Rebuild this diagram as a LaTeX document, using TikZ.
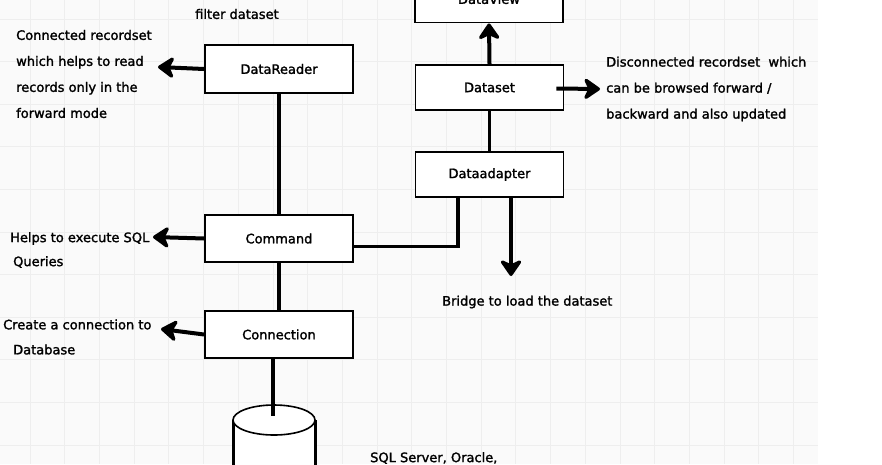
\documentclass[tikz,border=0pt]{standalone}
\usepackage{fontspec}
\setmainfont{DejaVu Sans}[BoldFont={DejaVu Sans},BoldFeatures={FakeBold=1.6}]
\usetikzlibrary{arrows.meta,calc}
\begin{document}
\begin{tikzpicture}[x=1pt,y=-1pt,
  box/.style={draw,line width=1.8pt,fill=white,minimum width=148pt,minimum height=47pt,inner sep=0pt,font=\fontsize{13}{15}\selectfont\bfseries},
  link/.style={line width=3.5pt},
  arr/.style={line width=4pt,line join=round,-{Stealth[length=19pt,width=26pt,inset=6pt,round]}},
  lbl/.style={align=left,inner sep=0pt,font=\fontsize{13}{26}\selectfont\bfseries},
  gridline/.style={gray!13,line width=0.8pt}]
\path[use as bounding box] (0,0) rectangle (882,464);
\clip (0,0) rectangle (882,464);
\fill[white] (0,0) rectangle (882,464);
\fill[gray!4] (0,0) rectangle (818,464);
\foreach \i in {0,...,22} \draw[gridline] ({30+34.7*\i},0) -- ++(0,464);
\foreach \j in {0,...,10} \draw[gridline] (0,{19+42.6*\j}) -- (818,{19+42.6*\j});

% boxes
\node[box] (dv) at (489,-1) {DataView};
\node[box,minimum height=48pt] (dr) at (279,69) {DataReader};
\node[box,minimum height=45pt] (ds) at (489.5,87.5) {Dataset};
\node[box,minimum height=45pt] (da) at (489.5,174.5) {Dataadapter};
\node[box] (cmd) at (279,238.5) {Command};
\node[box] (conn) at (279,334.5) {Connection};

% database cylinder
\draw[line width=3pt,fill=white] (233,420) -- (233,480) -- (315,480) -- (315,420);
\draw[line width=1.6pt,fill=white] (274,420) ellipse [x radius=41, y radius=15];
\coordinate (db) at (273,416);

% connectors
\draw[link] (dr.south) -- (cmd.north);
\draw[link] (cmd.south) -- (conn.north);
\draw[link] (conn.south -| db) -- (db);
\coordinate (cmdda) at ($(da.south west)!0.29!(da.south east)$);
\draw[link] ($(cmd.east)+(0,8)$) -| (cmdda);
\coordinate (br) at (511,276);
\draw[arr] (da.south -| br) -- (br);
\draw[link] (da.north) -- (ds.south);
\draw[arr] (ds.north) -- (dv.south);
\coordinate (dsr) at (600,89);
\draw[arr] ($(ds.east)+(-8,1)$) -- (dsr);
\coordinate (drl) at (158,67);
\draw[arr] (dr.west) -- (drl);
\coordinate (cmdl) at (153,237);
\draw[arr] (cmd.west) -- (cmdl);
\coordinate (connl) at (161,329);
\draw[arr] (conn.west) -- (connl);

% labels
\node[lbl,anchor=west] (l1) at (16,74) {Connected recordset\\which helps to read\\records only in the\\forward mode};
\node[lbl,anchor=west,font=\fontsize{13}{24}\selectfont\bfseries] (l2) at (10,250) {Helps to execute SQL\\\hspace*{3pt}Queries};
\node[lbl,anchor=west,font=\fontsize{13}{25}\selectfont\bfseries] (l3) at (3,337) {Create a connection to\\\hspace*{10pt}Database};
\node[lbl,anchor=west] (l4) at (606,89) {Disconnected recordset\ \ which\\can be browsed forward /\\backward and also updated};
\node[lbl,anchor=west] (l5) at (442,302) {Bridge to load the dataset};
\node[lbl,anchor=west] (l6) at (195,14) {filter dataset};
\node[lbl,anchor=west] (l7) at (370,458) {SQL Server, Oracle,};
\end{tikzpicture}
\end{document}
